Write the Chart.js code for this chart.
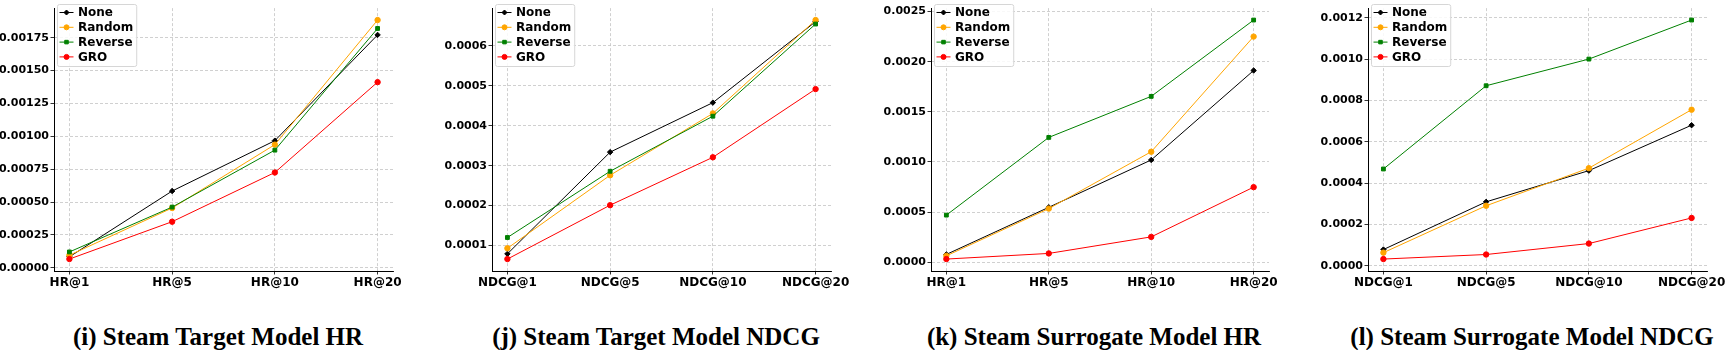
<!DOCTYPE html>
<html>
<head>
<meta charset="utf-8">
<script src="https://cdn.jsdelivr.net/npm/chart.js@4.4.1/dist/chart.umd.min.js"></script>
<style>
  body { margin: 0; background: #fff; }
  #wrap { position: relative; width: 1728px; height: 350px; overflow: hidden; }
  canvas { position: absolute; top: 0; }
  .cap {
    position: absolute; top: 323px; width: 432px; text-align: center;
    font-family: 'Liberation Serif', serif; font-weight: bold; font-size: 25px;
    line-height: 28px; color: #000; white-space: nowrap;
  }
</style>
</head>
<body>
<div id="wrap"></div>
<script>
const hrCats = ['HR@1', 'HR@5', 'HR@10', 'HR@20'];
const ndcgCats = ['NDCG@1', 'NDCG@5', 'NDCG@10', 'NDCG@20'];
const seriesNames = ['None', 'Random', 'Reverse', 'GRO'];
const seriesColors = ['#000000', '#ffa500', '#008000', '#ff0000'];
const seriesMarkers = ['rectRot', 'circle', 'rect', 'circle'];

// (i) target model HR
const tgtHrNone = [0.000084, 0.000584, 0.000967, 0.001771];
const tgtHrRandom = [0.000096, 0.000455, 0.000937, 0.001884];
const tgtHrReverse = [0.000121, 0.000462, 0.000895, 0.001820];
const tgtHrGro = [0.000067, 0.000351, 0.000725, 0.001412];

// (j) target model NDCG
const tgtNdcgNone = [0.000079, 0.000334, 0.000458, 0.000661];
const tgtNdcgRandom = [0.000093, 0.000276, 0.000431, 0.000665];
const tgtNdcgReverse = [0.000120, 0.000286, 0.000424, 0.000655];
const tgtNdcgGro = [0.000066, 0.000201, 0.000321, 0.000492];

// (k) surrogate model HR
const surHrNone = [0.000078, 0.000548, 0.001020, 0.001912];
const surHrRandom = [0.000064, 0.000535, 0.001102, 0.002250];
const surHrReverse = [0.000470, 0.001245, 0.001654, 0.002415];
const surHrGro = [0.000032, 0.000088, 0.000253, 0.000749];

// (l) surrogate model NDCG
const surNdcgNone = [0.000078, 0.000309, 0.000460, 0.000680];
const surNdcgRandom = [0.000063, 0.000290, 0.000472, 0.000755];
const surNdcgReverse = [0.000468, 0.000871, 0.001000, 0.001189];
const surNdcgGro = [0.000032, 0.000054, 0.000107, 0.000231];

const panels = [
  { left: 0, plotL: 54, plotR: 393, cats: hrCats, series: [tgtHrNone, tgtHrRandom, tgtHrReverse, tgtHrGro],
    step: 0.00025, dec: 5, caption: '(i) Steam Target Model HR', capX: 218 },
  { left: 432, plotL: 60, plotR: 399, cats: ndcgCats, series: [tgtNdcgNone, tgtNdcgRandom, tgtNdcgReverse, tgtNdcgGro],
    step: 0.0001, dec: 4, caption: '(j) Steam Target Model NDCG', capX: 224 },
  { left: 864, plotL: 67, plotR: 405, cats: hrCats, series: [surHrNone, surHrRandom, surHrReverse, surHrGro],
    step: 0.0005, dec: 4, caption: '(k) Steam Surrogate Model HR', capX: 230 },
  { left: 1296, plotL: 72, plotR: 411, cats: ndcgCats, series: [surNdcgNone, surNdcgRandom, surNdcgReverse, surNdcgGro],
    step: 0.0002, dec: 4, caption: '(l) Steam Surrogate Model NDCG', capX: 236 },
];

const CANVAS_W = 432;
const CANVAS_H = 300;
const PLOT_BOTTOM = 271;
const gridOpts = { color: '#c4c4c4', lineWidth: 0.8, tickColor: '#000', tickLength: 3.5, tickBorderDash: [] };
const borderOpts = { display: true, color: '#000', width: 1, dash: [3, 2] };

// legend drawn inside the plot, upper left, matplotlib style
const innerLegend = {
  id: 'innerLegend',
  afterDraw(chart) {
    const ctx = chart.ctx;
    const area = chart.chartArea;
    ctx.save();
    ctx.font = 'bold 12px "DejaVu Sans"';
    ctx.textBaseline = 'middle';
    const labels = chart.data.datasets.map(ds => ds.label);
    const textW = Math.max(...labels.map(t => ctx.measureText(t).width));
    const x0 = area.left + 3, y0 = 4, w = 21 + textW + 3, h = 62;
    ctx.beginPath();
    ctx.roundRect(x0 + 0.5, y0 + 0.5, w, h, 2);
    ctx.fillStyle = 'rgba(255,255,255,0.85)';
    ctx.fill();
    ctx.strokeStyle = '#d6d6d6';
    ctx.lineWidth = 1;
    ctx.stroke();
    chart.data.datasets.forEach((ds, i) => {
      const cy = y0 + 8.5 + i * 14.8;
      ctx.strokeStyle = ds.borderColor;
      ctx.fillStyle = ds.borderColor;
      ctx.lineWidth = 1;
      ctx.beginPath();
      ctx.moveTo(x0 + 2.5, cy);
      ctx.lineTo(x0 + 16.5, cy);
      ctx.stroke();
      Chart.helpers.drawPoint(ctx, { pointStyle: ds.pointStyle, radius: 2.5, rotation: 0, borderWidth: 1 }, x0 + 9.5, cy);
      ctx.fillStyle = '#000';
      ctx.fillText(ds.label, x0 + 21, cy + 0.5);
    });
    ctx.restore();
  }
};

const wrap = document.getElementById('wrap');

panels.forEach(p => {
  const canvas = document.createElement('canvas');
  canvas.width = CANVAS_W;
  canvas.height = CANVAS_H;
  canvas.style.left = p.left + 'px';
  wrap.appendChild(canvas);

  const cap = document.createElement('div');
  cap.className = 'cap';
  cap.style.left = (p.left + p.capX - CANVAS_W / 2) + 'px';
  cap.textContent = p.caption;
  wrap.appendChild(cap);

  // matplotlib-like 5% margins around the data
  const all = p.series.flat();
  const lo = Math.min(...all), hi = Math.max(...all);
  const pad = (hi - lo) * 0.05;

  const datasets = p.series.map((vals, i) => ({
    label: seriesNames[i],
    data: vals.map((v, j) => ({ x: j, y: v })),
    borderColor: seriesColors[i],
    backgroundColor: seriesColors[i],
    pointStyle: seriesMarkers[i],
    pointRadius: 2.7,
    pointBorderWidth: 1,
    borderWidth: 1,
    order: 3 - i,
  }));

  new Chart(canvas.getContext('2d'), {
    type: 'line',
    data: { datasets },
    options: {
      responsive: false,
      animation: false,
      layout: { padding: { top: 2, right: CANVAS_W - p.plotR, left: 0, bottom: 0 } },
      plugins: { legend: { display: false }, tooltip: { enabled: false } },
      scales: {
        x: {
          type: 'linear',
          min: -0.15,
          max: 3.15,
          afterBuildTicks: scale => { scale.ticks = p.cats.map((_, i) => ({ value: i })); },
          afterFit: scale => { scale.height = CANVAS_H - PLOT_BOTTOM; },
          ticks: {
            callback: v => p.cats[v],
            font: { family: 'DejaVu Sans', weight: 'bold', size: 12 },
            color: '#000',
            padding: 1,
            maxRotation: 0,
            autoSkip: false,
          },
          grid: gridOpts,
          border: borderOpts,
        },
        y: {
          min: lo - pad,
          max: hi + pad,
          afterFit: scale => { scale.width = p.plotL; },
          ticks: {
            stepSize: p.step,
            includeBounds: false,
            callback: v => v.toFixed(p.dec),
            font: { family: 'DejaVu Sans', weight: 'bold', size: 11 },
            color: '#000',
            padding: 1.5,
          },
          grid: gridOpts,
          border: borderOpts,
        },
      },
    },
    plugins: [innerLegend],
  });
});
</script>
</body>
</html>
